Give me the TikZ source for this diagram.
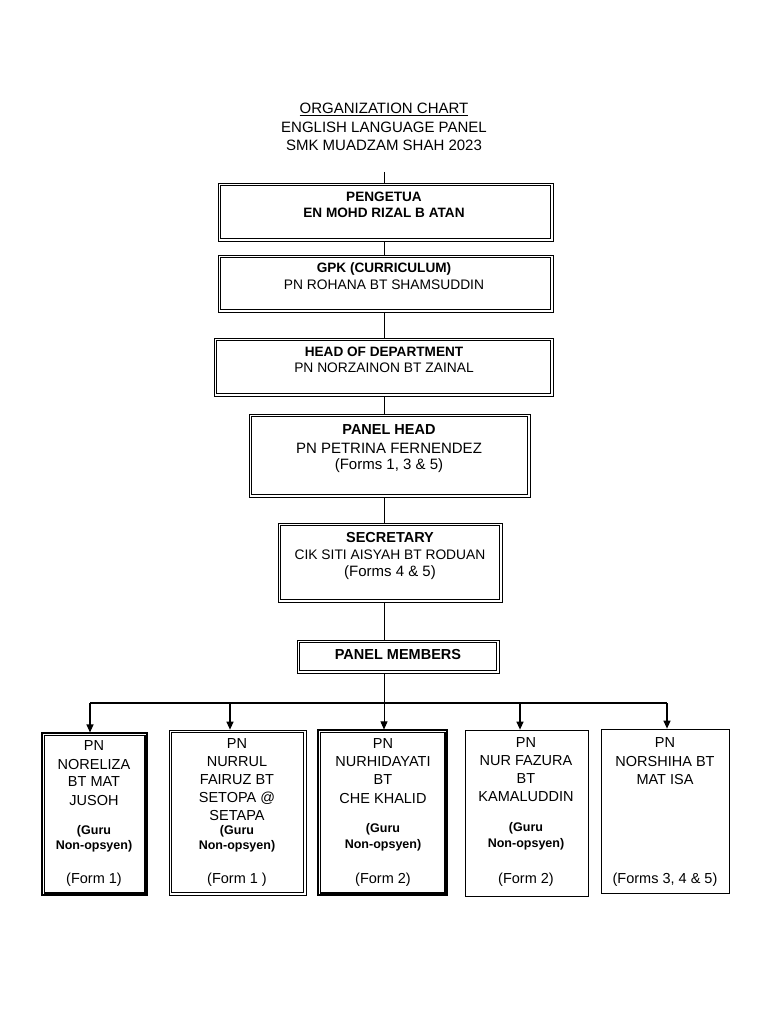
\documentclass[tikz,border=0pt]{standalone}
\usepackage{fontspec}
\setmainfont{Liberation Sans}
\usetikzlibrary{arrows.meta}
\newcommand{\dbl}[2][0.7pt]{\draw[line width=#1] ([shift={(2.6,2.6)}]#2.north west) rectangle ([shift={(-2.6,-2.6)}]#2.south east);}
\begin{document}
\begin{tikzpicture}[x=1pt,y=-1pt,
 box/.style={draw,line width=0.7pt,inner sep=0pt},
 sbox/.style={draw,line width=0.7pt,inner sep=0pt},
 t/.style={font=\fontsize{13.8}{13.8}\selectfont,inner sep=0pt},
 tn/.style={font=\fontsize{14.5}{14.5}\selectfont,inner sep=0pt},
 tb/.style={font=\fontsize{13.6}{13.6}\selectfont\bfseries,inner sep=0pt},
 tbl/.style={font=\fontsize{14.5}{14.5}\selectfont\bfseries,inner sep=0pt},
 tl/.style={font=\fontsize{15}{15}\selectfont,inner sep=0pt},
 g/.style={font=\fontsize{12.5}{12.5}\selectfont\bfseries,inner sep=0pt},
 arr/.style={-{Triangle[length=8pt,width=7pt]},line width=1.2pt}]
\useasboundingbox (0,0) rectangle (768,1024);
\node[tl] (t1) at (384,109) {\underline{ORGANIZATION CHART}};
\node[tl] (t2) at (384,127) {ENGLISH LANGUAGE PANEL};
\node[tl] (t3) at (384,145) {SMK MUADZAM SHAH 2023};
\coordinate (top) at (384,172);
\node[box,minimum width=335,minimum height=58] (p) at (385.5,212) {};\dbl{p}
\node[tb] at (384,197) {PENGETUA};
\node[tb] at (384,213) {EN MOHD RIZAL B ATAN};
\node[box,minimum width=335,minimum height=57] (g) at (385.5,283.5) {};\dbl{g}
\node[tb] at (384,269) {GPK (CURRICULUM)};
\node[t] at (384,285) {PN ROHANA BT SHAMSUDDIN};
\node[box,minimum width=339,minimum height=58] (h) at (383.5,367) {};\dbl{h}
\node[tb] at (384,352) {HEAD OF DEPARTMENT};
\node[t] at (384,368) {PN NORZAINON BT ZAINAL};
\node[box,minimum width=281,minimum height=83] (ph) at (389.5,455.5) {};\dbl{ph}
\node[tbl] at (389,430) {PANEL HEAD};
\node[tl] at (389,448) {PN PETRINA FERNENDEZ};
\node[tl] at (389,466) {(Forms 1, 3 \& 5)};
\node[box,minimum width=224,minimum height=79] (s) at (390,562.5) {};\dbl{s}
\node[tbl] at (390,538) {SECRETARY};
\node[t] at (390,555) {CIK SITI AISYAH BT RODUAN};
\node[tl] at (390,573) {(Forms 4 \& 5)};
\node[box,minimum width=202,minimum height=33] (pm) at (398,656.5) {};\dbl{pm}
\node[tbl] at (398,655) {PANEL MEMBERS};
\draw[line width=0.6pt] (top) -- (p.north -| top);
\draw[line width=0.6pt] (p.south -| top) -- (g.north -| top);
\draw[line width=0.6pt] (g.south -| top) -- (h.north -| top);
\draw[line width=0.6pt] (h.south -| top) -- (ph.north -| top);
\draw[line width=0.6pt] (ph.south -| top) -- (s.north -| top);
\draw[line width=0.6pt] (s.south -| top) -- (pm.north -| top);
\coordinate (j) at (384,703);
\coordinate (jl) at (90,703);
\coordinate (jr) at (667,703);
\draw[line width=0.6pt] (pm.south -| top) -- (j);
\draw[line width=2.4pt] (jl) -- (jr);
% bottom boxes
\node[box,line width=1.1pt,minimum width=105,minimum height=162] (b1) at (94.5,814) {};\dbl[1.1pt]{b1}
\node[box,minimum width=137,minimum height=165] (b2) at (237.5,812.5) {};\dbl{b2}
\node[box,line width=1.1pt,minimum width=129,minimum height=165] (b3) at (382.5,812.5) {};\dbl[1.1pt]{b3}
\node[sbox,minimum width=123,minimum height=166] (b4) at (526.5,813) {};
\node[sbox,minimum width=128,minimum height=164] (b5) at (665,811) {};
\draw[arr] (jl) -- (b1.north -| jl);
\draw[arr] (230,703) -- (b2.north -| 230,0);
\draw[-{Triangle[length=8pt,width=7pt]},line width=0.6pt] (j) -- (b3.north -| j);
\draw[arr] (520,703) -- (b4.north -| 520,0);
\draw[arr] (jr) -- (b5.north -| jr);
% texts
\foreach \x/\y/\s in {94/746/PN,94/764/NORELIZA,94/782/BT MAT,94/800/JUSOH,
 237/744/PN,237/762/NURRUL,237/780/FAIRUZ BT,237/798/SETOPA @,237/815/SETAPA,
 383/744/PN,383/762/NURHIDAYATI,383/780/BT,383/798/CHE KHALID,
 526/743/PN,526/761/NUR FAZURA,526/779/BT,526/797/KAMALUDDIN,
 665/743/PN,665/761/NORSHIHA BT,665/779/MAT ISA}
 \node[tn] at (\x,\y) {\s};
\foreach \x/\y in {94/831,237/831,383/829,526/828}
 \node[g] at (\x,\y) {(Guru};
\foreach \x/\y in {94/846,237/846,383/845,526/844}
 \node[g] at (\x,\y) {Non-opsyen)};
\node[tn] at (94,880) {(Form 1)};
\node[tn] at (237,880) {(Form 1 )};
\node[tn] at (383,880) {(Form 2)};
\node[tn] at (526,880) {(Form 2)};
\node[tn] at (665,880) {(Forms 3, 4 \& 5)};
\end{tikzpicture}
\end{document}
